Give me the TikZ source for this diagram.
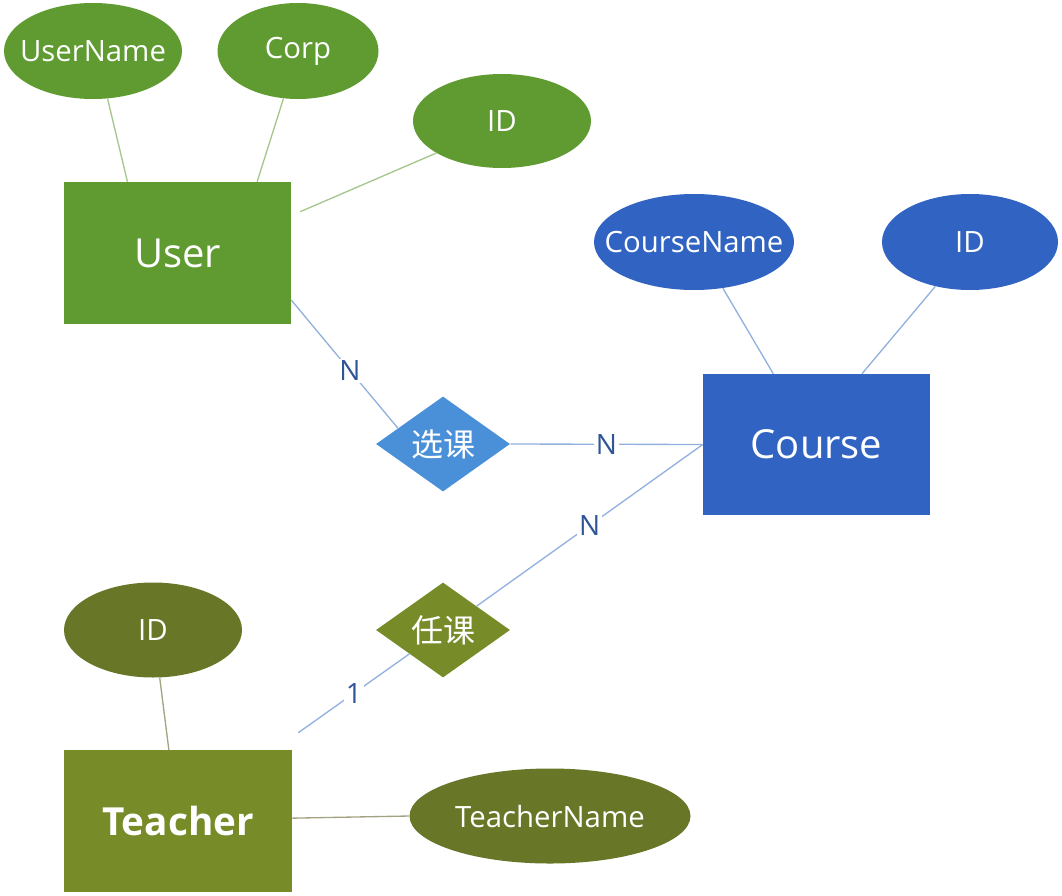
\documentclass[tikz,border=0pt]{standalone}
\usepackage{fontspec}
\setmainfont{Open Sans}
\newfontfamily\cjk{Noto Sans CJK SC}
\usetikzlibrary{shapes.geometric,calc}
\definecolor{ugreen}{HTML}{5F9B31}
\definecolor{cblue}{HTML}{3163C2}
\definecolor{lblue}{HTML}{4A90D9}
\definecolor{tolive}{HTML}{778C29}
\definecolor{dolive}{HTML}{677627}
\definecolor{gline}{HTML}{A5C68C}
\definecolor{bline}{HTML}{92B1DF}
\definecolor{oline}{HTML}{A3A383}
\definecolor{ltext}{HTML}{2F5597}
\newcommand\zw[1]{\makebox[0pt]{#1}}
\tikzset{
  ent/.style={rectangle, inner sep=0pt, text=white, font=\fontsize{30}{36}\selectfont},
  attr/.style={ellipse, inner sep=0pt, text=white, font=\fontsize{22}{26}\selectfont},
  rel/.style={diamond, inner sep=0pt, text=white, font=\cjk\fontsize{24}{28}\selectfont,
              minimum width=100.5pt, minimum height=71.25pt},
  card/.style={fill=white, inner sep=1.5pt, text=ltext, font=\fontsize{21}{24}\selectfont},
  glink/.style={draw=gline, line width=1pt},
  blink/.style={draw=bline, line width=1pt},
  olink/.style={draw=oline, line width=1pt},
}
\begin{document}
\begin{tikzpicture}[x=0.75pt,y=-0.75pt]
\useasboundingbox (0,0) rectangle (1062,895);
% User entity and attributes
\node[ent, fill=ugreen, minimum width=170.25pt, minimum height=106.5pt] (user) at (177.5,253) {User};
\node[attr, fill=ugreen, minimum width=133.5pt, minimum height=72pt] (un) at (93,51) {\zw{UserName}};
\node[attr, fill=ugreen, minimum width=120.75pt, minimum height=72pt] (corp) at (298,51) {\zw{Corp}};
\node[attr, fill=ugreen, minimum width=133.5pt, minimum height=70.5pt] (uid) at (502,121) {\zw{ID}};
% Course entity and attributes
\node[ent, fill=cblue, minimum width=170.25pt, minimum height=105.75pt] (course) at (816.5,444.5) {Course};
\node[attr, fill=cblue, minimum width=150pt, minimum height=72pt] (cn) at (694,242) {\zw{CourseName}};
\node[attr, fill=cblue, minimum width=132pt, minimum height=72pt] (cid) at (970,242) {\zw{ID}};
% Relationships
\node[rel, fill=lblue] (x1) at (443,444) {选课};
\node[rel, fill=tolive] (x2) at (443,630) {任课};
% Teacher entity and attributes
\node[ent, fill=tolive, minimum width=171pt, minimum height=106.5pt, font=\bfseries\fontsize{29}{34}\selectfont] (teacher) at (178,821) {Teacher};
\node[attr, fill=dolive, minimum width=133.5pt, minimum height=71.25pt] (tid) at (153,630) {\zw{ID}};
\node[attr, fill=dolive, minimum width=210.75pt, minimum height=71.25pt] (tn) at (550,816) {\zw{TeacherName}};
% User attribute links
\draw[glink] (un.-73) -- ($(user.north west)!0.28!(user.north east)$);
\draw[glink] (corp.-107) -- ($(user.north west)!0.85!(user.north east)$);
\draw[glink] (uid.-154) -- ($(user.north east)!0.21!(user.south east) + (9,0)$);
% Course attribute links
\draw[blink] (cn.-58) -- ($(course.north west)!0.31!(course.north east)$);
\draw[blink] (cid.-128) -- ($(course.north west)!0.70!(course.north east)$);
% Relationship links
\draw[blink] ($(user.north east)!0.83!(user.south east)$) -- node[card, pos=0.55] {N} ($(x1.west)!0.33!(x1.north)$);
\draw[blink] (x1.east) -- node[card, pos=0.5] {N} (course.west);
\draw[blink] (course.west) -- node[card, pos=0.5] {N} (x2.north east);
\draw[blink] (x2.south west) -- node[card, pos=0.5] {1} ($(teacher.north east)+(6,-17)$);
% Teacher attribute links
\draw[olink] (tid.-82) -- ($(teacher.north west)!0.46!(teacher.north east)$);
\draw[olink] ($(teacher.north east)!0.48!(teacher.south east)$) -- (tn.west);
\end{tikzpicture}
\end{document}
